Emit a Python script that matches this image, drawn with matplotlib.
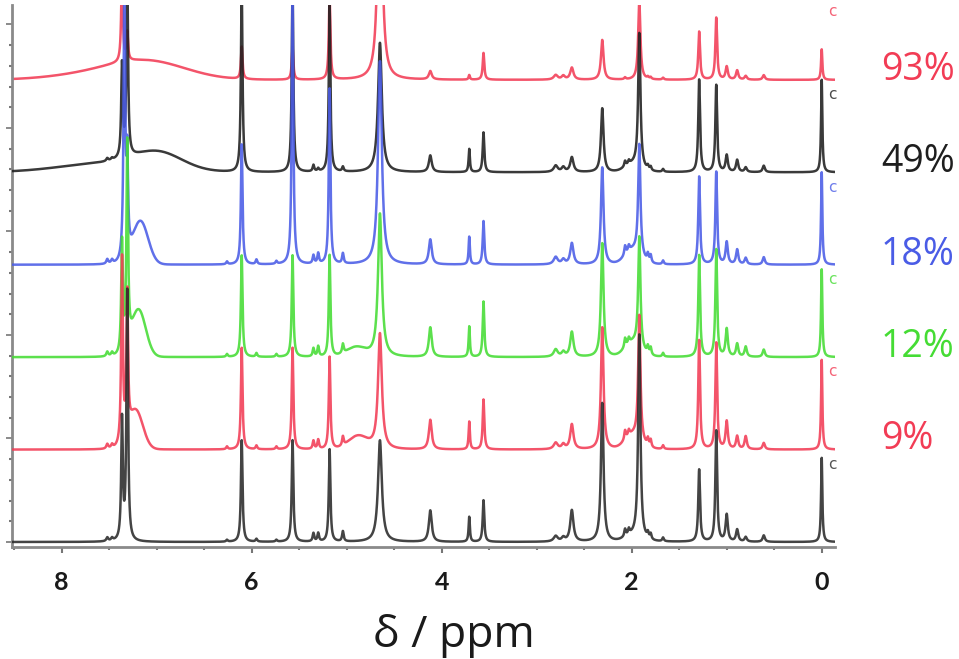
import numpy as np
import matplotlib
matplotlib.use("Agg")
import matplotlib.pyplot as plt
from matplotlib.ticker import MultipleLocator, NullFormatter

# stacked 1H NMR spectra, top to bottom
labels = ["93%", "49%", "18%", "12%", "9%", ""]
colors = ["#f23c55", "#1e1e1e", "#4a5ce6", "#45dc34", "#f23c55", "#2a2a2a"]
offsets = [5, 4, 3, 2, 1, 0]

# sharp peaks: position (ppm) and half width (ppm)
peak_pos = [7.52, 7.47, 7.365, 7.34, 7.31, 6.26, 6.105, 5.95, 5.74, 5.57,
            5.35, 5.30, 5.18, 5.04, 4.65, 4.12, 3.71, 3.56, 2.80, 2.72,
            2.63, 2.31, 2.07, 2.03, 1.92, 1.83, 1.80, 1.67, 1.29, 1.11,
            1.00, 0.89, 0.80, 0.61, 0.00]
peak_hw = [0.012, 0.012, 0.010, 0.010, 0.010, 0.010, 0.010, 0.010, 0.010, 0.010,
           0.010, 0.010, 0.010, 0.010, 0.024, 0.018, 0.008, 0.010, 0.025, 0.020,
           0.020, 0.016, 0.010, 0.010, 0.014, 0.010, 0.010, 0.010, 0.011, 0.011,
           0.014, 0.014, 0.014, 0.014, 0.008]

# peak heights per spectrum (units of the stacking step)
h_93 = [0, 0, 1.0, 0, 0.3, 0, 0.35, 0, 0, 0.35,
        0, 0, 0.9, 0, 3.0, 0.09, 0.05, 0.29, 0.05, 0.04,
        0.13, 0.43, 0.02, 0, 0.85, 0.02, 0.02, 0.02, 0.52, 0.67,
        0.14, 0.10, 0.04, 0.05, 0.33]
h_49 = [0.03, 0.02, 1.0, 0, 2.0, 0, 2.0, 0, 0, 2.0,
        0.07, 0.03, 1.8, 0.05, 1.4, 0.18, 0.25, 0.43, 0.07, 0.05,
        0.16, 0.69, 0.06, 0.04, 1.45, 0.04, 0.04, 0.03, 1.0, 0.94,
        0.18, 0.13, 0.05, 0.07, 1.0]
h_18 = [0.05, 0.04, 0, 3.0, 1.0, 0.03, 1.3, 0.05, 0.03, 3.0,
        0.09, 0.11, 1.9, 0.11, 2.2, 0.27, 0.30, 0.47, 0.08, 0.05,
        0.23, 1.05, 0.10, 0.06, 1.2, 0.08, 0.08, 0.04, 0.95, 1.0,
        0.24, 0.16, 0.07, 0.08, 1.0]
h_12 = [0.05, 0.04, 1.2, 0, 2.2, 0.03, 1.1, 0.04, 0.03, 1.1,
        0.09, 0.11, 1.1, 0.10, 1.55, 0.32, 0.33, 0.60, 0.08, 0.05,
        0.27, 1.23, 0.10, 0.06, 1.2, 0.08, 0.08, 0.04, 1.1, 1.16,
        0.30, 0.14, 0.11, 0.08, 0.95]
h_9 = [0.05, 0.04, 2.0, 0, 1.5, 0.03, 1.1, 0.04, 0.03, 1.1,
       0.09, 0.10, 1.0, 0.10, 1.25, 0.32, 0.30, 0.54, 0.07, 0.05,
       0.27, 1.32, 0.10, 0.06, 1.35, 0.08, 0.08, 0.04, 1.18, 1.15,
       0.30, 0.14, 0.14, 0.07, 0.97]
h_0 = [0.04, 0.03, 1.3, 0, 2.7, 0.02, 1.1, 0.03, 0.02, 1.1,
       0.09, 0.09, 1.0, 0.11, 1.1, 0.34, 0.27, 0.45, 0.06, 0.04,
       0.34, 1.5, 0.08, 0.06, 2.2, 0.06, 0.06, 0.04, 0.78, 1.2,
       0.29, 0.13, 0.05, 0.07, 0.91]
heights = [h_93, h_49, h_18, h_12, h_9, h_0]

# broad humps: (centre ppm, sigma ppm, height)
hump_93 = [(7.08, 0.40, 0.185), (7.65, 0.45, 0.06)]
hump_49 = [(6.98, 0.25, 0.17), (7.50, 0.50, 0.10), (1.99, 0.08, 0.08)]
hump_18 = [(7.17, 0.08, 0.46), (1.99, 0.08, 0.15)]
hump_12 = [(7.19, 0.075, 0.50), (4.90, 0.10, 0.10), (1.99, 0.08, 0.15)]
hump_9 = [(7.22, 0.075, 0.41), (4.88, 0.10, 0.14), (1.99, 0.08, 0.15)]
hump_0 = [(1.99, 0.08, 0.06)]
humps = [hump_93, hump_49, hump_18, hump_12, hump_9, hump_0]

ppm = np.arange(8.6, -0.2, -0.001)
pos = np.array(peak_pos)
hw = np.array(peak_hw)

fig = plt.figure(figsize=(9.59, 6.59), dpi=100)
ax = fig.add_axes([12/959, 1-547/659, (835-12)/959, (547-5)/659])

for i in range(len(offsets)):
    h = np.array(heights[i])
    y = (h[:, None] / (1 + ((ppm[None, :] - pos[:, None]) / hw[:, None])**2)).sum(axis=0)
    for c, s, a in humps[i]:
        y = y + a*np.exp(-0.5*((ppm - c)/s)**2)
    ax.plot(ppm, y + offsets[i], color=colors[i], lw=1.8, alpha=0.88,
            zorder=2+i, solid_joinstyle="round")
    # little marker near the reference peak
    ax.text(-0.11, min(offsets[i] + 0.84, 5.74), "c", color=colors[i], fontsize=11,
            ha="center", va="center", clip_on=False, alpha=0.8)
    if labels[i]:
        ax.text(1.056, offsets[i] + 0.11, labels[i], color=colors[i],
                transform=ax.get_yaxis_transform(), fontsize=27,
                family="Open Sans", ha="left", va="center")

ax.set_xlim(8.523, -0.14)
ax.set_ylim(-0.054, 5.81)

ax.spines["top"].set_visible(False)
ax.spines["right"].set_visible(False)
for s in ["left", "bottom"]:
    ax.spines[s].set_color("#8a8a8a")
    ax.spines[s].set_linewidth(2.0)

ax.xaxis.set_major_locator(MultipleLocator(2))
ax.xaxis.set_minor_locator(MultipleLocator(0.5))
ax.yaxis.set_major_locator(MultipleLocator(1.12))
ax.yaxis.set_minor_locator(MultipleLocator(0.224))
ax.yaxis.set_major_formatter(NullFormatter())
ax.tick_params(axis="x", which="major", direction="out", length=4, width=1.5,
               color="#777777", pad=13, labelsize=18)
ax.tick_params(axis="x", which="minor", direction="out", length=2.5, width=1.5,
               color="#777777")
ax.tick_params(axis="y", which="major", direction="out", length=4.5, width=1.2,
               color="#777777")
ax.tick_params(axis="y", which="minor", direction="out", length=2, width=1.5,
               color="#777777")
for t in ax.get_xticklabels():
    t.set_family("Lato")
    t.set_weight("bold")
    t.set_color("#1a1a1a")

fig.text(454/959, 1-647/659, "δ / ppm", ha="center", va="baseline",
         fontsize=32, family="Open Sans", color="#1a1a1a")

fig.savefig("out.png", dpi=100)
